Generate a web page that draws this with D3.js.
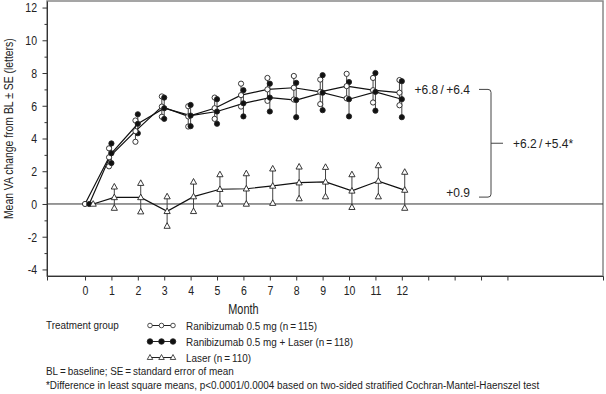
<!DOCTYPE html>
<html>
<head>
<meta charset="utf-8">
<script src="https://cdn.jsdelivr.net/npm/d3@7"></script>
<style>
  body { margin: 0; background: #fff; }
  svg { display: block; }
  text { fill: #222; font-family: "Liberation Sans", Arial, sans-serif; }
</style>
</head>
<body>
<svg width="606" height="394"></svg>
<script>
const months = [0,1,2,3,4,5,6,7,8,9,10,11,12]
const xTicks = [0,1,2,3,4,5,6,7,8,9,10,11,12,13,14,15,16]
const yTicks = [-4,-3,-2,-1,0,1,2,3,4,5,6,7,8,9,10,11,12]

const ranMean   = [0, 2.85, 4.45, 5.95, 5.35, 5.85, 6.65, 7.0, 7.1, 6.85, 7.2, 6.95, 6.8]
const ranSE     = [0, 0.55, 0.65, 0.62, 0.62, 0.65, 0.70, 0.70, 0.72, 0.75, 0.75, 0.75, 0.77]
const comboMean = [0, 3.1, 4.9, 5.85, 5.4, 5.65, 6.15, 6.5, 6.35, 6.8, 6.4, 6.85, 6.4]
const comboSE   = [0, 0.60, 0.58, 0.65, 0.65, 0.75, 0.80, 0.85, 1.05, 1.07, 1.05, 1.15, 1.10]
const laserMean = [0, 0.4, 0.4, -0.45, 0.45, 0.9, 0.93, 1.1, 1.3, 1.35, 0.8, 1.4, 0.85]
const laserSE   = [0, 0.65, 0.87, 0.90, 0.90, 0.90, 0.93, 1.05, 0.97, 0.90, 1.00, 0.95, 1.10]

const groups = [
  {name: 'Ranibizumab 0.5 mg (n\u2009=\u2009115)', mean: ranMean, se: ranSE, shape: 'open'},
  {name: 'Ranibizumab 0.5 mg + Laser (n\u2009=\u2009118)', mean: comboMean, se: comboSE, shape: 'filled'},
  {name: 'Laser (n\u2009=\u2009110)', mean: laserMean, se: laserSE, shape: 'tri'}
]

const svg = d3.select('svg')
const margin = {top: 1, left: 47, right: 3, bottom: 118}
const width = +svg.attr('width')
const height = +svg.attr('height')

const xScale = d3.scaleLinear().domain([-1.44, 19.62]).range([margin.left, width - margin.right])
const yScale = d3.scaleLinear().domain([-4.4, 12.4]).range([height - margin.bottom, margin.top])

// condensed look: no narrow font installed, so squeeze horizontally
const squeeze = 0.78
const legSqueeze = 0.9

// small horizontal dodge so the three groups don't sit on top of each other
const dodge = (m, i) => m === 0 ? [0, 0.16, 0.31][i] : [-0.09, 0, 0.11][i]

const triPath = (cx, cy, s) => {
  const h = s * 0.9
  return `M${cx},${cy - h * 0.6}L${cx + s / 2},${cy + h * 0.4}L${cx - s / 2},${cy + h * 0.4}Z`
}

const drawMarker = (g, shape, cx, cy) => {
  if (shape === 'tri') {
    g.append('path').attr('d', triPath(cx, cy, 6.2))
      .attr('fill', '#fff').attr('stroke', '#222').attr('stroke-width', 0.9)
  } else {
    g.append('circle').attr('cx', cx).attr('cy', cy).attr('r', 2.6)
      .attr('fill', shape === 'filled' ? '#111' : '#fff')
      .attr('stroke', '#222').attr('stroke-width', 0.9)
  }
}

// frame
svg.append('rect')
  .attr('x', xScale.range()[0]).attr('y', yScale.range()[1])
  .attr('width', xScale.range()[1] - xScale.range()[0])
  .attr('height', yScale.range()[0] - yScale.range()[1])
  .attr('fill', 'none').attr('stroke', '#888').attr('stroke-width', 1.5)

// y axis
const yAxis = svg.append('g').attr('transform', `translate(${margin.left},0)`)
  .call(d3.axisLeft(yScale).tickValues(yTicks)
    .tickSize(0).tickFormat(d => d % 2 === 0 ? d : ''))
yAxis.select('.domain').attr('stroke', '#333')
yAxis.selectAll('.tick line').attr('x2', d => d % 2 === 0 ? -4.5 : -2.5).attr('stroke', '#333')
yAxis.selectAll('.tick text').attr('x', -10 / squeeze).attr('transform', `scale(${squeeze},1)`)
  .style('font-size', '13.5px').attr('fill', '#222')

// x axis
const xAxis = svg.append('g').attr('transform', `translate(0,${yScale.range()[0]})`)
  .call(d3.axisBottom(xScale).tickValues(xTicks).tickSize(4.5)
    .tickFormat(d => d <= 12 ? d : ''))
xAxis.select('.domain').attr('stroke', '#333')
xAxis.selectAll('.tick line').attr('stroke', '#333')
xAxis.selectAll('.tick text').attr('y', 9).attr('transform', `scale(${squeeze},1)`)
  .style('font-size', '13.5px').attr('fill', '#222')

svg.append('text')
  .attr('transform', `translate(${xScale(6)},313.5) scale(${squeeze},1)`)
  .attr('text-anchor', 'middle').style('font-size', '14px').text('Month')

svg.append('text')
  .attr('transform', `translate(13,${yScale(4.6)}) rotate(-90) scale(0.8,1)`)
  .attr('text-anchor', 'middle').style('font-size', '13px')
  .text('Mean VA change from BL \u00b1 SE (letters)')

// zero line
svg.append('line')
  .attr('x1', xScale.range()[0]).attr('x2', xScale.range()[1])
  .attr('y1', yScale(0)).attr('y2', yScale(0))
  .attr('stroke', '#333').attr('stroke-width', 1)

const plot = svg.append('g')

// error bars
groups.forEach((grp, i) => {
  months.forEach((m, j) => {
    if (grp.se[j] === 0) return
    plot.append('line')
      .attr('x1', xScale(m + dodge(m, i))).attr('x2', xScale(m + dodge(m, i)))
      .attr('y1', yScale(grp.mean[j] - grp.se[j])).attr('y2', yScale(grp.mean[j] + grp.se[j]))
      .attr('stroke', '#444').attr('stroke-width', 1)
  })
})

// mean lines
groups.forEach((grp, i) => {
  const line = d3.line()
    .x((d, j) => xScale(months[j] + dodge(months[j], i)))
    .y(d => yScale(d))
  plot.append('path').datum(grp.mean).attr('d', line)
    .attr('fill', 'none').attr('stroke', '#111').attr('stroke-width', 1.2)
})

// markers: error-bar ends then means
groups.forEach((grp, i) => {
  months.forEach((m, j) => {
    const cx = xScale(m + dodge(m, i))
    if (grp.se[j] > 0) {
      drawMarker(plot, grp.shape, cx, yScale(grp.mean[j] + grp.se[j]))
      drawMarker(plot, grp.shape, cx, yScale(grp.mean[j] - grp.se[j]))
    }
  })
})
groups.forEach((grp, i) => {
  months.forEach((m, j) => {
    drawMarker(plot, grp.shape, xScale(m + dodge(m, i)), yScale(grp.mean[j]))
  })
})

// annotation bracket
const bx = 491
const bTop = yScale(7.0), bBot = yScale(0.42), bMid = (bTop + bBot) / 2
svg.append('path')
  .attr('d', `M479,${bTop}H${bx - 3}Q${bx},${bTop} ${bx},${bTop + 3}V${bBot - 3}Q${bx},${bBot} ${bx - 3},${bBot}H479`)
  .attr('fill', 'none').attr('stroke', '#444').attr('stroke-width', 1)
svg.append('line').attr('x1', bx).attr('x2', 503).attr('y1', bMid).attr('y2', bMid)
  .attr('stroke', '#444').attr('stroke-width', 1)

const ann = svg.append('g').style('font-size', '12px')
ann.append('text').attr('x', 470).attr('y', bTop + 5).attr('text-anchor', 'end')
  .text('+6.8\u2009/\u2009+6.4')
ann.append('text').attr('x', 470).attr('y', bBot).attr('text-anchor', 'end')
  .text('+0.9')
ann.append('text').attr('x', 513).attr('y', bMid + 4.5)
  .text('+6.2\u2009/\u2009+5.4*')

// legend
const legText = (x, y, s) => svg.append('text')
  .attr('transform', `translate(${x},${y}) scale(${legSqueeze},1)`)
  .style('font-size', '11px').text(s)

legText(46, 329, 'Treatment group')
groups.forEach((grp, i) => {
  const ly = 325.5 + i * 16
  const lg = svg.append('g')
  lg.append('line').attr('x1', 150).attr('x2', 173).attr('y1', ly).attr('y2', ly)
    .attr('stroke', '#222').attr('stroke-width', 1)
  ;[150, 161.5, 173].forEach(cx => {
    if (grp.shape === 'tri') {
      lg.append('path').attr('d', triPath(cx, ly, 5.5))
        .attr('fill', '#fff').attr('stroke', '#222').attr('stroke-width', 0.8)
    } else {
      lg.append('circle').attr('cx', cx).attr('cy', ly).attr('r', grp.shape === 'filled' ? 2.8 : 2.3)
        .attr('fill', grp.shape === 'filled' ? '#111' : '#fff')
        .attr('stroke', '#222').attr('stroke-width', 0.8)
    }
  })
  legText(186, ly + 4, grp.name)
})

legText(46, 374.5, 'BL\u2009=\u2009baseline; SE\u2009=\u2009standard error of mean')
legText(46, 388.5, '*Difference in least square means, p<0.0001/0.0004 based on two-sided stratified Cochran-Mantel-Haenszel test')
</script>
</body>
</html>
